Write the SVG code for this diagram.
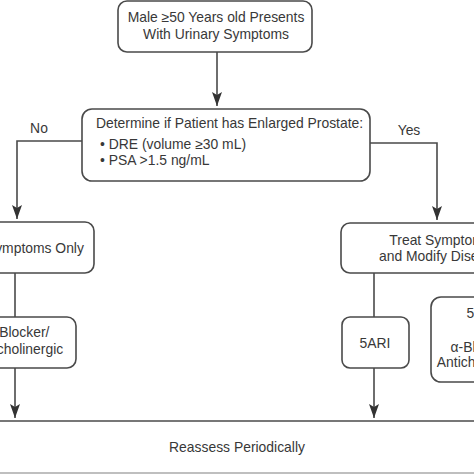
<svg xmlns="http://www.w3.org/2000/svg" width="474" height="474" viewBox="0 0 474 474">
<style>
.box{fill:#fff;stroke:#4a4a4a;stroke-width:1.6}
.t{font-family:"Liberation Sans",Arial,sans-serif;font-size:13.9px;fill:#383838}
.m{text-anchor:middle}
.ln{fill:none;stroke:#4a4a4a;stroke-width:1.6}
</style>
<defs>
<marker id="ah" viewBox="0 0 14 10" refX="14" refY="5" markerWidth="14" markerHeight="10" markerUnits="userSpaceOnUse" orient="auto">
<path d="M0,0 L14,5 L0,10 L3,5 Z" fill="#333"/>
</marker>
</defs>
<rect width="474" height="474" fill="#fff"/>
<g id="connectors">
<path class="ln" d="M217,52 V106" marker-end="url(#ah)"/>
<path class="ln" d="M82,141 H17 V219" marker-end="url(#ah)"/>
<path class="ln" d="M370,143 H437 V220" marker-end="url(#ah)"/>
<path class="ln" d="M15,273 V317"/>
<path class="ln" d="M15,368 V418" marker-end="url(#ah)"/>
<path class="ln" d="M374,273 V317"/>
<path class="ln" d="M374,368 V418" marker-end="url(#ah)"/>
</g>
<g id="start">
<rect class="box" x="118" y="1" width="194" height="51" rx="9"/>
<text class="t m" x="216" y="22">Male ≥50 Years old Presents</text>
<text class="t m" x="216" y="39">With Urinary Symptoms</text>
</g>
<g id="determine">
<rect class="box" x="82" y="109" width="288" height="72" rx="10"/>
<text class="t" x="96" y="128">Determine if Patient has Enlarged Prostate:</text>
<text class="t" x="100" y="149">• DRE (volume ≥30 mL)</text>
<text class="t" x="100" y="165">• PSA &gt;1.5 ng/mL</text>
</g>
<g id="labels">
<text class="t m" x="39" y="133">No</text>
<text class="t m" x="409" y="135">Yes</text>
</g>
<g id="symptoms-only">
<rect class="box" x="-60" y="222" width="154" height="51" rx="9"/>
<text class="t m" x="17" y="253">Treat Symptoms Only</text>
</g>
<g id="alpha-left">
<rect class="box" x="-40" y="317" width="116" height="51" rx="9"/>
<text class="t m" x="18" y="337">α-Blocker/</text>
<text class="t m" x="18" y="354">Anticholinergic</text>
</g>
<g id="modify">
<rect class="box" x="341" y="223" width="200" height="50" rx="9"/>
<text class="t m" x="440" y="245">Treat Symptoms</text>
<text class="t m" x="440" y="261">and Modify Disease</text>
</g>
<g id="fiveari">
<rect class="box" x="342" y="317" width="67" height="51" rx="8"/>
<text class="t m" x="375" y="348">5ARI</text>
</g>
<g id="combo">
<rect class="box" x="431" y="297" width="104" height="85" rx="10"/>
<text class="t m" x="482" y="318">5ARI</text>
<text class="t m" x="482" y="335">+</text>
<text class="t m" x="482" y="352">α-Blocker/</text>
<text class="t m" x="482" y="367">Anticholinergic</text>
</g>
<g id="reassess">
<rect x="-5" y="421" width="484" height="52" fill="#fff"/>
<path d="M-5,421 H479" stroke="#4a4a4a" stroke-width="1.6"/>
<path d="M-5,473 H479" stroke="#aaa" stroke-width="1.6"/>
<text class="t m" x="237" y="452">Reassess Periodically</text>
</g>
</svg>
